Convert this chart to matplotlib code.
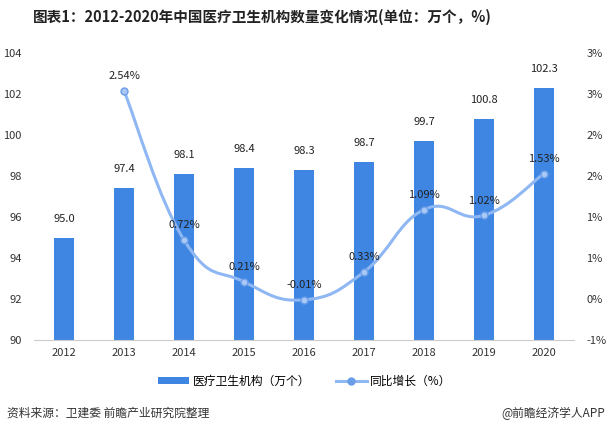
import numpy as np
import matplotlib
matplotlib.use("Agg")
import matplotlib.pyplot as plt
from matplotlib.path import Path
from matplotlib.patches import PathPatch
from matplotlib.patches import Patch
from matplotlib.lines import Line2D

plt.rcParams['font.family'] = ['Noto Sans CJK SC', 'DejaVu Sans']

# data
years = ['2012', '2013', '2014', '2015', '2016', '2017', '2018', '2019', '2020']
institutions = [95.0, 97.4, 98.1, 98.4, 98.3, 98.7, 99.7, 100.8, 102.3]
growth_years = years[1:]
growth = [2.54, 0.72, 0.21, -0.01, 0.33, 1.09, 1.02, 1.53]

left_ticks = [90, 92, 94, 96, 98, 100, 102, 104]
right_ticks = [-0.5, 0, 0.5, 1.0, 1.5, 2.0, 2.5, 3.0]
right_labels = ['-1%', '0%', '1%', '1%', '2%', '2%', '3%', '3%']

bar_color = '#3e86e2'
line_color = '#8fb7f3'
marker_edge = '#6a9ee8'
text_color = '#333333'

fig = plt.figure(figsize=(6.09, 4.33), dpi=100)
ax = fig.add_axes([34 / 609, 1 - 340 / 433, 540 / 609, 287 / 433])
ax2 = ax.twinx()

x = np.arange(len(years))
ax.bar(x, institutions, width=0.32, color=bar_color, zorder=2)
for xi, v in zip(x, institutions):
    ax.annotate(f'{v:.1f}', (xi, v), xytext=(0, 10), textcoords='offset points',
                ha='center', va='bottom', fontsize=8, color='#222222')

ax.set_xlim(-0.5, len(years) - 0.5)
ax.set_ylim(90, 104)
ax.set_yticks(left_ticks)
ax.set_xticks(x)
ax.set_xticklabels(years)
ax.tick_params(axis='both', length=0, labelsize=8, labelcolor=text_color)
ax.tick_params(axis='y', pad=9)
ax.tick_params(axis='x', pad=6)
for s in ['top', 'left', 'right']:
    ax.spines[s].set_visible(False)
ax.spines['bottom'].set_color('#cccccc')

# smooth curve for the growth line (bezier through the points)
gx = np.arange(1, len(years))
gy = np.array(growth)
verts = [(gx[0], gy[0])]
codes = [Path.MOVETO]
k = 0.22
for i in range(len(gx) - 1):
    p0 = np.array([gx[max(i - 1, 0)], gy[max(i - 1, 0)]])
    p1 = np.array([gx[i], gy[i]])
    p2 = np.array([gx[i + 1], gy[i + 1]])
    p3 = np.array([gx[min(i + 2, len(gx) - 1)], gy[min(i + 2, len(gx) - 1)]])
    c1 = p1 + (p2 - p0) * k
    c2 = p2 - (p3 - p1) * k
    verts += [tuple(c1), tuple(c2), tuple(p2)]
    codes += [Path.CURVE4] * 3
ax2.add_patch(PathPatch(Path(verts, codes), fill=False, edgecolor=line_color,
                        lw=2.2, zorder=3, capstyle='round'))
ax2.plot(gx, gy, 'o', ms=5, mfc='#a9c8f6', mec=marker_edge, mew=1, zorder=4)
for xi, v in zip(gx, gy):
    ax2.annotate(f'{v:.2f}%', (xi, v), xytext=(0, 7), textcoords='offset points',
                 ha='center', va='bottom', fontsize=8, color='#222222')

ax2.set_ylim(-0.5, 3.0)
ax2.set_yticks(right_ticks)
ax2.set_yticklabels(right_labels)
ax2.tick_params(axis='y', length=0, labelsize=8, labelcolor=text_color, pad=9)
for s in ['top', 'left', 'right', 'bottom']:
    ax2.spines[s].set_visible(False)

handles = [Patch(facecolor=bar_color, label='医疗卫生机构（万个）'),
           Line2D([0], [0], color=line_color, lw=2.2, marker='o', ms=5,
                  mfc=marker_edge, mec=marker_edge, label='同比增长（%）')]
fig.legend(handles=handles, loc='center', bbox_to_anchor=(305 / 609, 1 - 381 / 433),
           ncol=2, frameon=False, fontsize=8.5, handlelength=2.6, handleheight=0.5,
           columnspacing=2.2, handletextpad=0.3)

fig.text(262 / 609, 1 - 17 / 433, '图表1：2012-2020年中国医疗卫生机构数量变化情况(单位：万个，%)',
         ha='center', va='center', fontsize=10.5, fontweight='bold', color='#222222')
fig.text(7 / 609, 1 - 413 / 433, '资料来源：卫建委 前瞻产业研究院整理',
         ha='left', va='center', fontsize=8.5, color='#333333')
fig.text(605 / 609, 1 - 413 / 433, '@前瞻经济学人APP',
         ha='right', va='center', fontsize=8.5, color='#333333')

fig.savefig('out.png', dpi=100)
